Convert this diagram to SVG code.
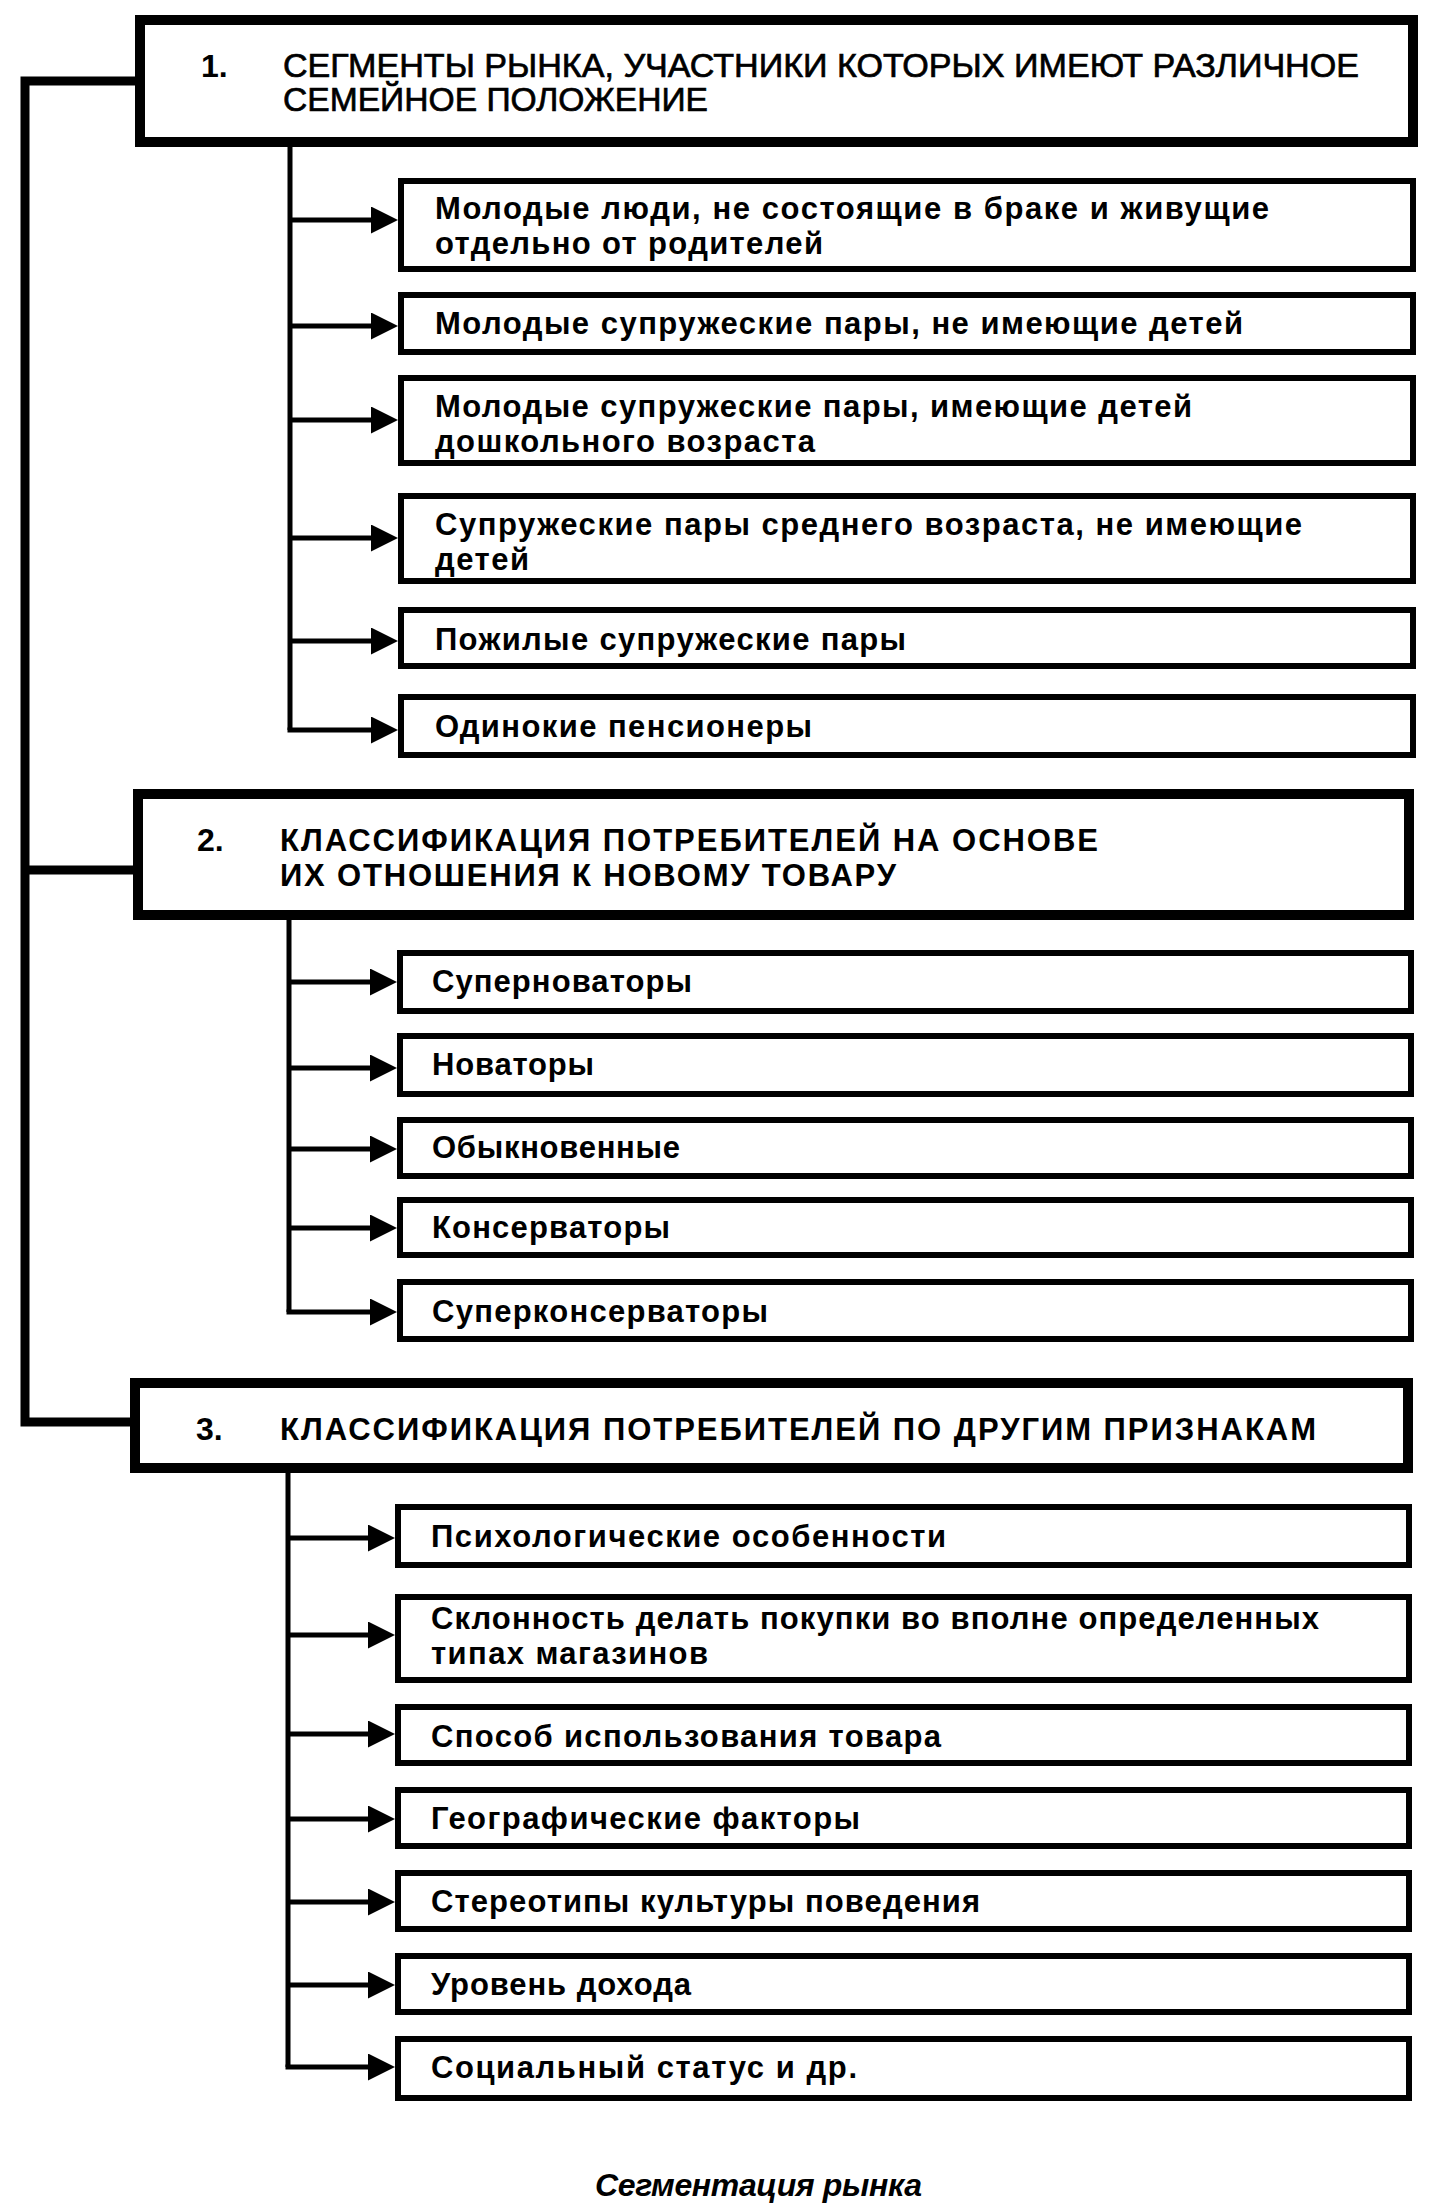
<svg xmlns="http://www.w3.org/2000/svg" width="1441" height="2206" viewBox="0 0 1441 2206">
<style>
.bg{fill:#fff}
.hdr{fill:#fff;stroke:#000;stroke-width:10}
.box{fill:#fff;stroke:#000;stroke-width:6}
.trunk{fill:none;stroke:#000;stroke-width:9}
.br{fill:none;stroke:#000;stroke-width:5}
.arr{fill:none;stroke:#000;stroke-width:5;marker-end:url(#ah)}
text{font-family:"Liberation Sans",Arial,sans-serif;fill:#000}
.h1t{font-size:34px;font-weight:normal;stroke:#000;stroke-width:0.7}
.ht{font-size:31px;font-weight:bold}
.num{font-size:32px;font-weight:bold}
.t{font-size:31px;font-weight:bold}
.cap{font-size:32px;font-style:italic;font-weight:bold}
</style>
<defs>
<marker id="ah" markerUnits="userSpaceOnUse" viewBox="0 0 27 27" refX="17" refY="13.5" markerWidth="27" markerHeight="27" orient="auto">
<path d="M0,0 L27,13.5 L0,27 Z" fill="#000"/>
</marker>
</defs>
<rect class="bg" x="0" y="0" width="1441" height="2206"/>

<g id="connectors">
<path class="trunk" d="M135,81 H25 V1422 H130"/>
<line class="trunk" x1="25" y1="870" x2="133" y2="870"/>
<path class="br" d="M290,147 V730"/>
<path class="br" d="M289,920 V1312"/>
<path class="br" d="M288,1473 V2067"/>
<line class="arr" x1="290" y1="220" x2="388" y2="220"/>
<line class="arr" x1="290" y1="326" x2="388" y2="326"/>
<line class="arr" x1="290" y1="420" x2="388" y2="420"/>
<line class="arr" x1="290" y1="538" x2="388" y2="538"/>
<line class="arr" x1="290" y1="641" x2="388" y2="641"/>
<line class="arr" x1="287.5" y1="730" x2="388" y2="730"/>
<line class="arr" x1="289" y1="982" x2="387" y2="982"/>
<line class="arr" x1="289" y1="1068" x2="387" y2="1068"/>
<line class="arr" x1="289" y1="1149" x2="387" y2="1149"/>
<line class="arr" x1="289" y1="1228" x2="387" y2="1228"/>
<line class="arr" x1="286.5" y1="1312" x2="387" y2="1312"/>
<line class="arr" x1="288" y1="1538" x2="385" y2="1538"/>
<line class="arr" x1="288" y1="1635" x2="385" y2="1635"/>
<line class="arr" x1="288" y1="1734" x2="385" y2="1734"/>
<line class="arr" x1="288" y1="1819" x2="385" y2="1819"/>
<line class="arr" x1="288" y1="1902" x2="385" y2="1902"/>
<line class="arr" x1="288" y1="1985" x2="385" y2="1985"/>
<line class="arr" x1="285.5" y1="2067" x2="385" y2="2067"/>
</g>

<g id="h1">
<rect class="hdr" x="140" y="20" width="1273" height="122"/>
<text class="num" x="201" y="77">1.</text>
<text class="h1t" x="283" y="77" textLength="1076" lengthAdjust="spacingAndGlyphs">СЕГМЕНТЫ РЫНКА, УЧАСТНИКИ КОТОРЫХ ИМЕЮТ РАЗЛИЧНОЕ</text>
<text class="h1t" x="283" y="111" textLength="425" lengthAdjust="spacingAndGlyphs">СЕМЕЙНОЕ ПОЛОЖЕНИЕ</text>
</g>

<g id="n1-1"><rect class="box" x="401" y="181" width="1012" height="88"/>
<text class="t" x="435" y="219" textLength="834" lengthAdjust="spacing">Молодые люди, не состоящие в браке и живущие</text>
<text class="t" x="435" y="254" textLength="388" lengthAdjust="spacing">отдельно от родителей</text></g>
<g id="n1-2"><rect class="box" x="401" y="295" width="1012" height="57"/>
<text class="t" x="435" y="334" textLength="808" lengthAdjust="spacing">Молодые супружеские пары, не имеющие детей</text></g>
<g id="n1-3"><rect class="box" x="401" y="378" width="1012" height="85"/>
<text class="t" x="435" y="417" textLength="757" lengthAdjust="spacing">Молодые супружеские пары, имеющие детей</text>
<text class="t" x="435" y="452" textLength="380" lengthAdjust="spacing">дошкольного возраста</text></g>
<g id="n1-4"><rect class="box" x="401" y="496" width="1012" height="85"/>
<text class="t" x="435" y="535" textLength="867" lengthAdjust="spacing">Супружеские пары среднего возраста, не имеющие</text>
<text class="t" x="435" y="570" textLength="94" lengthAdjust="spacing">детей</text></g>
<g id="n1-5"><rect class="box" x="401" y="610" width="1012" height="56"/>
<text class="t" x="435" y="650" textLength="471" lengthAdjust="spacing">Пожилые супружеские пары</text></g>
<g id="n1-6"><rect class="box" x="401" y="697" width="1012" height="58"/>
<text class="t" x="435" y="737" textLength="377" lengthAdjust="spacing">Одинокие пенсионеры</text></g>

<g id="h2">
<rect class="hdr" x="138" y="794" width="1271" height="121"/>
<text class="num" x="197" y="851">2.</text>
<text class="ht" x="280" y="851" textLength="818" lengthAdjust="spacing">КЛАССИФИКАЦИЯ ПОТРЕБИТЕЛЕЙ НА ОСНОВЕ</text>
<text class="ht" x="280" y="886" textLength="616" lengthAdjust="spacing">ИХ ОТНОШЕНИЯ К НОВОМУ ТОВАРУ</text>
</g>

<g id="n2-1"><rect class="box" x="400" y="953" width="1011" height="58"/>
<text class="t" x="432" y="992" textLength="260" lengthAdjust="spacing">Суперноваторы</text></g>
<g id="n2-2"><rect class="box" x="400" y="1036" width="1011" height="58"/>
<text class="t" x="432" y="1075" textLength="162" lengthAdjust="spacing">Новаторы</text></g>
<g id="n2-3"><rect class="box" x="400" y="1120" width="1011" height="56"/>
<text class="t" x="432" y="1158" textLength="248" lengthAdjust="spacing">Обыкновенные</text></g>
<g id="n2-4"><rect class="box" x="400" y="1200" width="1011" height="55"/>
<text class="t" x="432" y="1238" textLength="238" lengthAdjust="spacing">Консерваторы</text></g>
<g id="n2-5"><rect class="box" x="400" y="1282" width="1011" height="57"/>
<text class="t" x="432" y="1322" textLength="336" lengthAdjust="spacing">Суперконсерваторы</text></g>

<g id="h3">
<rect class="hdr" x="135" y="1383" width="1273" height="85"/>
<text class="num" x="196" y="1440">3.</text>
<text class="ht" x="280" y="1440" textLength="1036" lengthAdjust="spacing">КЛАССИФИКАЦИЯ ПОТРЕБИТЕЛЕЙ ПО ДРУГИМ ПРИЗНАКАМ</text>
</g>

<g id="n3-1"><rect class="box" x="398" y="1507" width="1011" height="58"/>
<text class="t" x="431" y="1547" textLength="515" lengthAdjust="spacing">Психологические особенности</text></g>
<g id="n3-2"><rect class="box" x="398" y="1597" width="1011" height="83"/>
<text class="t" x="431" y="1629" textLength="888" lengthAdjust="spacing">Склонность делать покупки во вполне определенных</text>
<text class="t" x="431" y="1664" textLength="277" lengthAdjust="spacing">типах магазинов</text></g>
<g id="n3-3"><rect class="box" x="398" y="1707" width="1011" height="56"/>
<text class="t" x="431" y="1747" textLength="510" lengthAdjust="spacing">Способ использования товара</text></g>
<g id="n3-4"><rect class="box" x="398" y="1790" width="1011" height="56"/>
<text class="t" x="431" y="1829" textLength="429" lengthAdjust="spacing">Географические факторы</text></g>
<g id="n3-5"><rect class="box" x="398" y="1873" width="1011" height="56"/>
<text class="t" x="431" y="1912" textLength="549" lengthAdjust="spacing">Стереотипы культуры поведения</text></g>
<g id="n3-6"><rect class="box" x="398" y="1956" width="1011" height="56"/>
<text class="t" x="431" y="1995" textLength="260" lengthAdjust="spacing">Уровень дохода</text></g>
<g id="n3-7"><rect class="box" x="398" y="2039" width="1011" height="59"/>
<text class="t" x="431" y="2078" textLength="426" lengthAdjust="spacing">Социальный статус и др.</text></g>

<g id="caption">
<text class="cap" x="595" y="2196" textLength="327" lengthAdjust="spacing">Сегментация рынка</text>
</g>
</svg>
